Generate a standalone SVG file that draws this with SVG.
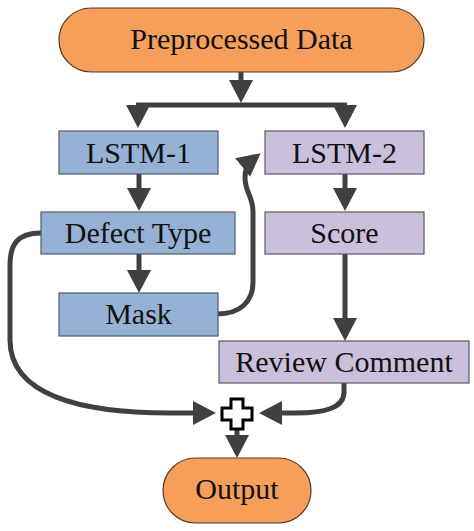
<svg xmlns="http://www.w3.org/2000/svg" width="474" height="531" viewBox="0 0 474 531">
<style>
.term{fill:#F59F5B;stroke:#5a3a20;stroke-width:1.2}
.blue{fill:#95B1D3;stroke:#4f5d6e;stroke-width:1.2}
.purp{fill:#CBC0DC;stroke:#5d5868;stroke-width:1.2}
.conn{fill:none;stroke:#404040;stroke-width:5;stroke-linejoin:round}
</style>
<defs>
<marker id="ah" viewBox="0 0 23 24" refX="12" refY="12" markerWidth="23" markerHeight="24" markerUnits="userSpaceOnUse" orient="auto">
<path d="M0,0 L23,12 L0,24 z" fill="#404040"/>
</marker>
</defs>
<rect width="474" height="531" fill="#fff"/>
<g id="connectors">
<path class="conn" d="M241,72 L241,92" marker-end="url(#ah)"/>
<path class="conn" d="M136,105 L347,105"/>
<path class="conn" d="M138,105 L138,117" marker-end="url(#ah)"/>
<path class="conn" d="M345,105 L345,117" marker-end="url(#ah)"/>
<path class="conn" d="M139,174 L139,200" marker-end="url(#ah)"/>
<path class="conn" d="M345,174 L345,200" marker-end="url(#ah)"/>
<path class="conn" d="M139,254 L139,282" marker-end="url(#ah)"/>
<path class="conn" d="M345,254 L345,330" marker-end="url(#ah)"/>
<path class="conn" d="M217,314 C240,314 253,302 253,282 L253,212 C253,196 245,192 245,178 C245,170 247,164 252,160" marker-end="url(#ah)"/>
<path class="conn" d="M41,233 C17,233 10,245 10,265 L10,340 C10,395 80,413 170,413 L205,413" marker-end="url(#ah)"/>
<path class="conn" d="M344,383 L344,392 C344,408 325,413 295,413 L270,413" marker-end="url(#ah)"/>
<path class="conn" d="M237,430 L237,447" marker-end="url(#ah)"/>
</g>
<g id="n-pre">
<rect class="term" x="59" y="8" width="365" height="64" rx="32"/>
<text x="241.5" y="49" font-family="Liberation Serif" font-size="30" text-anchor="middle" fill="#111">Preprocessed Data</text>
</g>
<g id="n-lstm1">
<rect class="blue" x="59" y="131" width="159" height="43"/>
<text x="138.5" y="163" font-family="Liberation Serif" font-size="30" text-anchor="middle" fill="#111">LSTM-1</text>
</g>
<g id="n-lstm2">
<rect class="purp" x="265" y="131" width="159" height="43"/>
<text x="344.5" y="163" font-family="Liberation Serif" font-size="30" text-anchor="middle" fill="#111">LSTM-2</text>
</g>
<g id="n-defect">
<rect class="blue" x="41" y="212" width="194" height="42"/>
<text x="138" y="243" font-family="Liberation Serif" font-size="30" text-anchor="middle" fill="#111">Defect Type</text>
</g>
<g id="n-score">
<rect class="purp" x="265" y="212" width="159" height="42"/>
<text x="344.5" y="243" font-family="Liberation Serif" font-size="30" text-anchor="middle" fill="#111">Score</text>
</g>
<g id="n-mask">
<rect class="blue" x="59" y="293" width="159" height="43"/>
<text x="138.5" y="324" font-family="Liberation Serif" font-size="30" text-anchor="middle" fill="#111">Mask</text>
</g>
<g id="n-review">
<rect class="purp" x="219" y="341" width="250" height="42"/>
<text x="344" y="372" font-family="Liberation Serif" font-size="30" text-anchor="middle" fill="#111">Review Comment</text>
</g>
<g id="n-plus">
<path d="M231,399 L243,399 L243,408 L252,408 L252,420 L243,420 L243,429 L231,429 L231,420 L222,420 L222,408 L231,408 Z" fill="#fff" stroke="#000" stroke-width="3" stroke-linejoin="miter"/>
</g>
<g id="n-output">
<rect class="term" x="163" y="458" width="148" height="65" rx="32.5"/>
<text x="237" y="499" font-family="Liberation Serif" font-size="30" text-anchor="middle" fill="#111">Output</text>
</g>
</svg>
